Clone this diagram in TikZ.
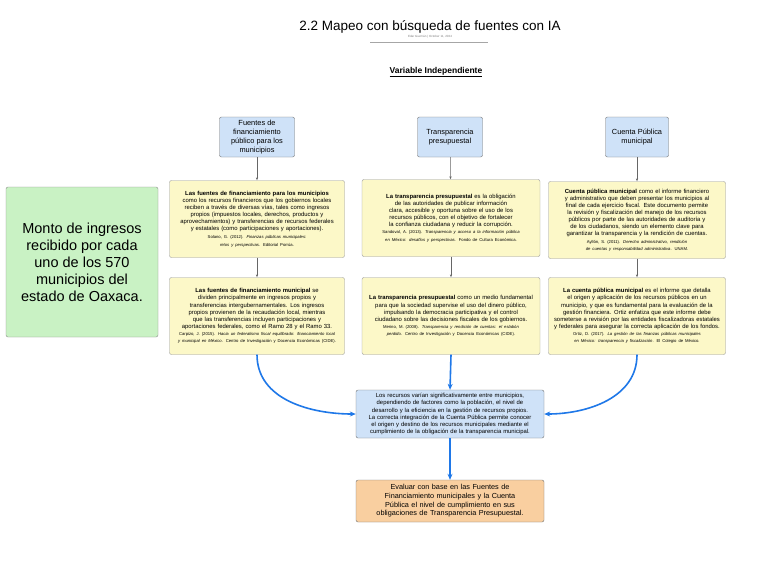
\documentclass[tikz,border=0pt]{standalone}
\usepackage{fontspec}
\setmainfont{Liberation Sans}
\usetikzlibrary{positioning}
\usetikzlibrary{arrows.meta}
\definecolor{hdrblue}{HTML}{CFE2F8}
\definecolor{txtyel}{HTML}{FCF8C8}
\definecolor{lgreen}{HTML}{C9F2C4}
\definecolor{orng}{HTML}{F9CFA0}
\definecolor{arrblue}{HTML}{1F78E8}
\newcommand{\tinytxt}{\fontsize{5.9}{7.1}\selectfont\hyphenpenalty=10000\exhyphenpenalty=10000}
\newcommand{\evaltxt}{\fontsize{7.3}{8.6}\selectfont\hyphenpenalty=10000\exhyphenpenalty=10000}
\newcommand{\reftxt}{\fontsize{4.2}{5}\selectfont}
\tikzset{
  hdr/.style = {draw=black!55, fill=hdrblue, rounded corners=2pt, align=center, font=\fontsize{7.4}{8.8}\selectfont},
  src/.style = {draw=black!40, fill=txtyel, rounded corners=2pt, align=center, minimum height=77pt, inner sep=3pt, font=\tinytxt},
  thin arr/.style = {-{Stealth[length=3pt]}, black!60, line width=0.5pt},
  big arr/.style = {-{Stealth[length=6pt,width=5pt]}, arrblue, line width=1.6pt}
}
\begin{document}
\begin{tikzpicture}[x=1pt,y=-1pt]
\useasboundingbox (0,0) rectangle (768,584);
\fill[white] (0,0) rectangle (768,584);
\node (title) at (430,27) {\fontsize{13.5}{15}\selectfont 2.2 Mapeo con búsqueda de fuentes con IA};
\node (auth) at (430,37) {\fontsize{3}{3.5}\selectfont\color{black!50} Edar Guzmán \textbar\ October 11, 2024};
\draw[black!35, line width=0.6pt] (370,42) -- (488,42);
\node (varind) at (436,72) {\fontsize{8.5}{10}\selectfont\bfseries\underline{Variable Independiente}};
\node[draw=black!45, fill=lgreen, rounded corners=2pt, minimum width=152pt, minimum height=150pt, align=center,
      font=\fontsize{14.5}{17}\selectfont] (dep) at (82,262) {Monto de ingresos\\recibido por cada\\uno de los 570\\municipios del\\estado de Oaxaca.};
% encabezados
\node[hdr, minimum width=75pt, minimum height=40pt] (fuentes) at (257,137) {Fuentes de\\financiamiento\\público para los\\municipios};
\node[hdr, minimum width=65pt, minimum height=40pt] (transp) at (450,137) {Transparencia\\presupuestal};
\node[hdr, minimum width=63pt, minimum height=40pt] (cuenta) at (637,137) {Cuenta Pública\\municipal};
% primera fila
\node[src, minimum width=175pt, text width=166pt] (fa) at (257,219) {\textbf{Las fuentes de financiamiento para los municipios} como los recursos financieros que los gobiernos locales reciben a través de diversas vías, tales como ingresos propios (impuestos locales, derechos, productos y aprovechamientos) y transferencias de recursos federales y estatales (como participaciones y aportaciones).\\[1pt]{\reftxt Solano, G. (2012). \textit{Finanzas públicas municipales: retos y perspectivas}. Editorial Porrúa.}};
\node[src, minimum width=178pt, text width=166pt] (ta) at (451,218) {\textbf{La transparencia presupuestal} es la obligación de las autoridades de publicar información clara, accesible y oportuna sobre el uso de los recursos públicos, con el objetivo de fortalecer la confianza ciudadana y reducir la corrupción.\\{\reftxt Sandoval, A. (2013). \textit{Transparencia y acceso a la información pública en México: desafíos y perspectivas}. Fondo de Cultura Económica.}};
\node[src, minimum width=177pt, text width=166pt] (ca) at (637,220) {\textbf{Cuenta pública municipal} como el informe financiero y administrativo que deben presentar los municipios al final de cada ejercicio fiscal. Este documento permite la revisión y fiscalización del manejo de los recursos públicos por parte de las autoridades de auditoría y de los ciudadanos, siendo un elemento clave para garantizar la transparencia y la rendición de cuentas.\\{\reftxt Ayllón, S. (2011). \textit{Derecho administrativo, rendición de cuentas y responsabilidad administrativa}. UNAM.}};
% segunda fila
\node[src, minimum width=175pt, text width=166pt] (fb) at (257,316) {\textbf{Las fuentes de financiamiento municipal} se dividen principalmente en ingresos propios y transferencias intergubernamentales. Los ingresos propios provienen de la recaudación local, mientras que las transferencias incluyen participaciones y aportaciones federales, como el Ramo 28 y el Ramo 33.\\{\reftxt Carpizo, J. (2015). \textit{Hacia un federalismo fiscal equilibrado: financiamiento local y municipal en México}. Centro de Investigación y Docencia Económicas (CIDE).}};
\node[src, minimum width=178pt, text width=166pt] (tb) at (451,316) {\textbf{La transparencia presupuestal} como un medio fundamental para que la sociedad supervise el uso del dinero público, impulsando la democracia participativa y el control ciudadano sobre las decisiones fiscales de los gobiernos.\\{\reftxt Merino, M. (2008). \textit{Transparencia y rendición de cuentas: el eslabón perdido}. Centro de Investigación y Docencia Económicas (CIDE).}};
\node[src, minimum width=177pt, text width=166pt] (cb) at (637,316) {\textbf{La cuenta pública municipal} es el informe que detalla el origen y aplicación de los recursos públicos en un municipio, y que es fundamental para la evaluación de la gestión financiera. Ortiz enfatiza que este informe debe someterse a revisión por las entidades fiscalizadoras estatales y federales para asegurar la correcta aplicación de los fondos.\\{\reftxt Ortiz, D. (2017). \textit{La gestión de las finanzas públicas municipales en México: transparencia y fiscalización}. El Colegio de México.}};
% sintesis
\node[draw=black!55, fill=hdrblue, rounded corners=2pt, minimum width=188pt, minimum height=48pt, text width=178pt, align=center,
      font=\tinytxt] (sint) at (450,414) {Los recursos varían significativamente entre municipios, dependiendo de factores como la población, el nivel de desarrollo y la eficiencia en la gestión de recursos propios. La correcta integración de la Cuenta Pública permite conocer el origen y destino de los recursos municipales mediante el cumplimiento de la obligación de la transparencia municipal.};
\node[draw=black!55, fill=orng, rounded corners=2pt, minimum width=188pt, minimum height=42pt, text width=180pt, align=center,
      font=\evaltxt] (eval) at (450,501) {Evaluar con base en las Fuentes de Financiamiento municipales y la Cuenta Pública el nivel de cumplimiento en sus obligaciones de Transparencia Presupuestal.};
% flechas
\foreach \a/\b in {fuentes/fa, transp/ta, cuenta/ca, fa/fb, ta/tb, ca/cb}
  \draw[thin arr] (\a) -- (\b);
\draw[big arr] (fb.south) to[out=-90, in=180] (sint.west);
\draw[big arr] (cb.south) to[out=-90, in=0] (sint.east);
\draw[big arr] (tb.south) -- (sint.north);
\draw[big arr] (sint.south) -- (eval.north);
\end{tikzpicture}
\end{document}
